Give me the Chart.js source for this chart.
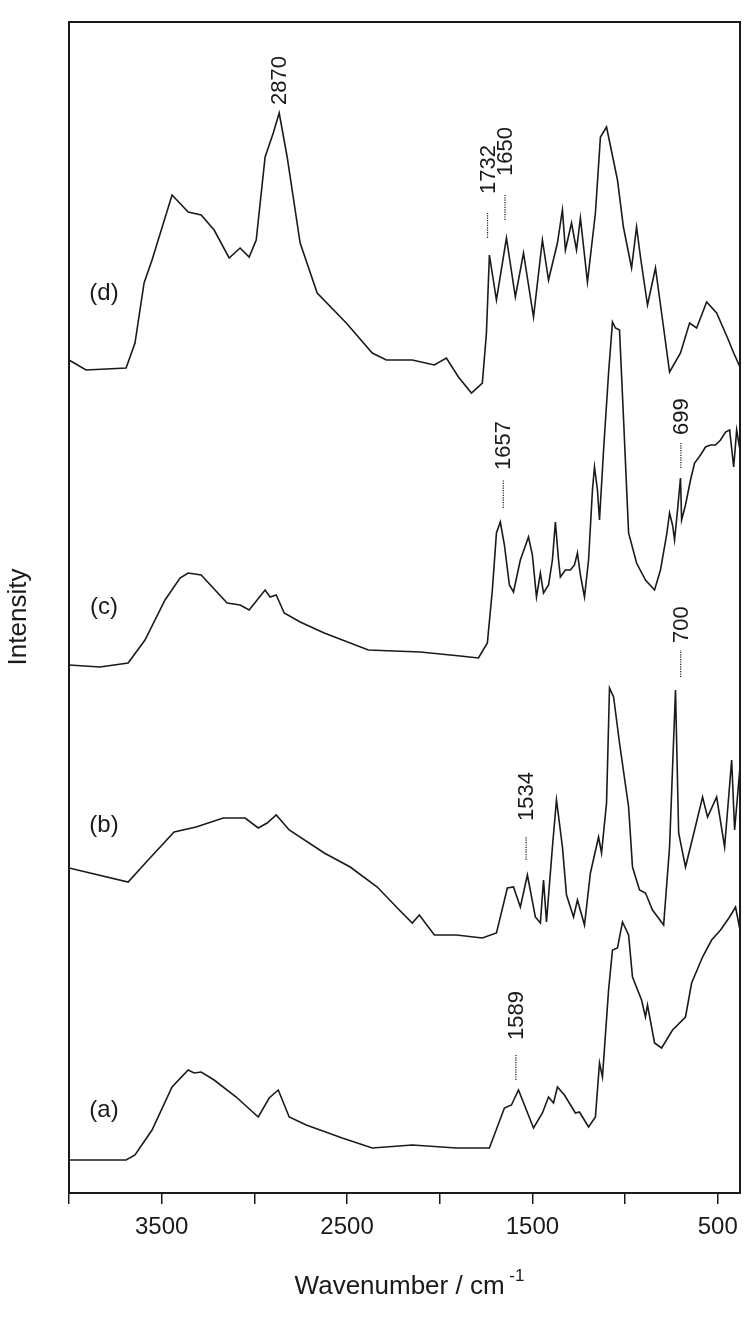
<!DOCTYPE html>
<html><head><meta charset="utf-8">
<script src="https://cdn.jsdelivr.net/npm/chart.js@4"></script>
<style>html,body{margin:0;padding:0;background:#fff}#w{width:752px;height:1327px}</style>
</head><body><div id="w"><canvas id="c"></canvas></div>
<script>
// wavenumbers (cm-1) and intensities (arbitrary, offset traces)
const wnD=[4000,3908,3692,3644,3595,3552,3444,3357,3287,3217,3136,3077,3028,2990,2942,2898,2866,2823,2753,2661,2504,2364,2288,2148,2029,1964,1899,1829,1770,1748,1732,1694,1640,1592,1548,1494,1446,1413,1365,1338,1322,1289,1262,1241,1203,1160,1133,1100,1041,1009,965,938,917,879,836,803,760,701,652,614,560,506,447,414,380];
const intD=[83.3,82.3,82.5,85.0,91.0,93.3,99.8,98.1,97.8,96.3,93.5,94.5,93.6,95.3,103.6,106.0,108.0,103.6,95.0,90.0,87.0,84.0,83.3,83.3,82.8,83.5,81.6,80.0,81.0,86.0,93.8,89.3,95.5,89.6,94.0,87.6,95.3,91.3,95.0,98.3,94.3,97.0,94.3,97.5,91.1,98.0,105.6,106.6,101.3,96.6,92.5,96.6,93.6,88.8,92.5,88.0,82.1,84.0,87.0,86.5,89.1,88.0,85.5,84.0,82.6];
const wnC=[4000,3833,3681,3590,3482,3401,3357,3287,3212,3147,3077,3028,2985,2942,2915,2882,2839,2753,2623,2385,2105,1889,1791,1743,1716,1694,1673,1651,1624,1602,1565,1521,1500,1478,1457,1440,1413,1392,1376,1359,1349,1322,1295,1273,1257,1241,1219,1197,1176,1165,1149,1138,1116,1089,1068,1052,1030,1008,981,938,890,841,809,776,760,744,733,717,701,695,674,647,625,593,566,539,512,485,458,436,414,398,380];
const intC=[52.8,52.6,53.0,55.3,59.3,61.5,62.0,61.8,60.3,59.0,58.8,58.3,59.3,60.3,59.6,59.8,58.0,57.1,56.0,54.3,54.1,53.7,53.5,55.0,60.3,66.0,67.1,64.8,60.8,60.1,63.3,65.6,63.8,59.6,62.0,60.0,60.8,63.3,67.1,63.3,61.6,62.3,62.3,62.8,64.0,61.8,59.6,63.3,70.3,72.6,70.3,67.3,74.3,82.0,87.1,86.5,86.3,77.3,66.0,63.0,61.3,60.3,62.3,65.8,68.0,66.8,65.3,68.3,71.5,67.3,68.8,71.3,73.0,73.8,74.6,74.8,74.8,75.3,76.1,76.3,72.6,76.3,74.3];
const wnB=[4000,3681,3573,3433,3314,3168,3050,2979,2931,2882,2812,2623,2483,2337,2218,2148,2110,2029,1910,1770,1694,1635,1602,1565,1527,1484,1457,1440,1424,1392,1370,1338,1316,1278,1257,1219,1187,1143,1127,1100,1084,1062,1030,981,960,922,890,852,792,760,728,711,674,625,582,555,506,463,425,409,380];
const intB=[32.5,31.1,33.3,36.1,36.6,37.5,37.5,36.5,37.0,37.8,36.3,34.0,32.6,30.6,28.3,27.0,27.8,25.8,25.8,25.5,26.0,30.5,30.6,28.6,31.8,27.6,27.0,31.3,27.1,34.6,39.3,34.6,29.8,27.6,29.3,26.8,32.0,35.6,34.0,39.0,50.5,49.6,45.0,38.6,32.6,30.3,30.0,28.3,26.8,34.6,50.3,36.0,32.6,36.3,39.6,37.6,39.6,34.6,43.3,36.3,42.6];
const wnA=[4000,3692,3644,3552,3444,3357,3325,3287,3217,3098,2979,2920,2871,2812,2720,2526,2364,2148,1910,1732,1651,1613,1575,1494,1446,1413,1386,1365,1327,1268,1246,1197,1160,1138,1122,1089,1068,1041,1014,981,960,911,890,879,841,803,744,674,641,582,533,485,436,404,380];
const intA=[3.3,3.3,3.8,6.3,10.6,12.3,12.0,12.1,11.3,9.6,7.6,9.5,10.3,7.6,6.8,5.5,4.5,4.8,4.5,4.5,8.5,8.8,10.3,6.5,8.0,9.6,9.0,10.6,9.8,8.0,8.1,6.6,7.6,13.0,11.6,20.3,24.3,24.5,27.1,25.8,21.6,19.3,17.6,18.8,15.0,14.5,16.3,17.6,21.0,23.6,25.3,26.3,27.6,28.6,26.3];
const xTicks=[3500,2500,1500,500];
const seriesNames=['(a)','(b)','(c)','(d)'];
const seriesNameY=[8.3,36.8,58.6,90.0];
// peak annotations: label, wavenumber, dotted line bottom/top, text start
const peakLabels=['2870','1732','1650','1657','699','700','1534','1589'];
const peakWn=[2866,1742,1648,1657,699,700,1534,1589];
const peakLineLo=[null,95.5,97.3,68.5,72.5,51.6,33.3,11.3];
const peakLineHi=[null,98.0,99.8,71.3,75.0,54.3,35.6,13.8];
const peakTextY=[108.8,99.9,101.7,72.3,75.8,55.0,37.2,15.3];

const mk=(w,v)=>w.map((x,i)=>({x:x,y:v[i]}));
const ds=[[wnA,intA],[wnB,intB],[wnC,intC],[wnD,intD]].map(p=>({data:mk(p[0],p[1]),borderColor:'#1a1a1a',borderWidth:1.6,pointRadius:0,tension:0,fill:false}));
const FONT='"Liberation Sans", Arial, sans-serif';
const deco={id:'deco',afterDraw(ch){
  const c=ch.ctx,a=ch.chartArea,xs=ch.scales.x,ys=ch.scales.y;
  c.save();
  c.strokeStyle='#1a1a1a';c.lineWidth=2;c.strokeRect(a.left,a.top,a.right-a.left,a.bottom-a.top);
  c.fillStyle='#1a1a1a';
  c.font='24px '+FONT;c.textAlign='center';c.textBaseline='middle';
  seriesNames.forEach((n,i)=>c.fillText(n,104,ys.getPixelForValue(seriesNameY[i])));
  peakLabels.forEach((t,i)=>{
    const x=xs.getPixelForValue(peakWn[i]);
    if(peakLineLo[i]!==null){
      c.save();c.setLineDash([1.2,1.2]);c.lineWidth=1.2;c.beginPath();
      c.moveTo(x,ys.getPixelForValue(peakLineLo[i]));c.lineTo(x,ys.getPixelForValue(peakLineHi[i]));c.stroke();c.restore();
    }
    c.save();c.translate(x,ys.getPixelForValue(peakTextY[i]));c.rotate(-Math.PI/2);
    c.font='22px '+FONT;c.textAlign='left';c.textBaseline='middle';c.fillText(t,0,1);c.restore();
  });
  c.font='26px '+FONT;c.textAlign='left';c.textBaseline='alphabetic';
  const t1='Wavenumber / cm',w1=c.measureText(t1).width;
  c.font='17px '+FONT;const w2=c.measureText(' -1').width;
  const sx=(a.left+a.right)/2-(w1+w2)/2+5;
  c.font='26px '+FONT;c.fillText(t1,sx,1294);
  c.font='17px '+FONT;c.fillText(' -1',sx+w1,1281);
  c.save();c.translate(19,617);c.rotate(-Math.PI/2);c.font='26px '+FONT;c.textAlign='center';c.textBaseline='middle';c.fillText('Intensity',0,0);c.restore();
  c.restore();
}};
new Chart(document.getElementById('c'),{type:'line',data:{datasets:ds},
 plugins:[deco],
 options:{responsive:true,maintainAspectRatio:false,animation:false,
  layout:{padding:{top:22,right:12,left:0,bottom:0}},
  plugins:{legend:{display:false},tooltip:{enabled:false}},
  scales:{
   x:{type:'linear',reverse:true,min:380,max:4000,
      afterBuildTicks:s=>{s.ticks=[];for(let v=4000;v>=500;v-=500)s.ticks.push({value:v});},
      afterFit:s=>{s.height=134;},
      grid:{drawOnChartArea:false,drawTicks:true,tickLength:11,color:'#1a1a1a',lineWidth:1.5},
      border:{display:false},
      ticks:{padding:9,color:'#1a1a1a',font:{family:FONT,size:24},maxRotation:0,autoSkip:false,
        callback:v=>xTicks.includes(v)?String(v):''}},
   y:{min:0,max:117.1,afterFit:s=>{s.width=69;},ticks:{display:false},grid:{display:false},border:{display:false}}
  }}});
</script></body></html>
